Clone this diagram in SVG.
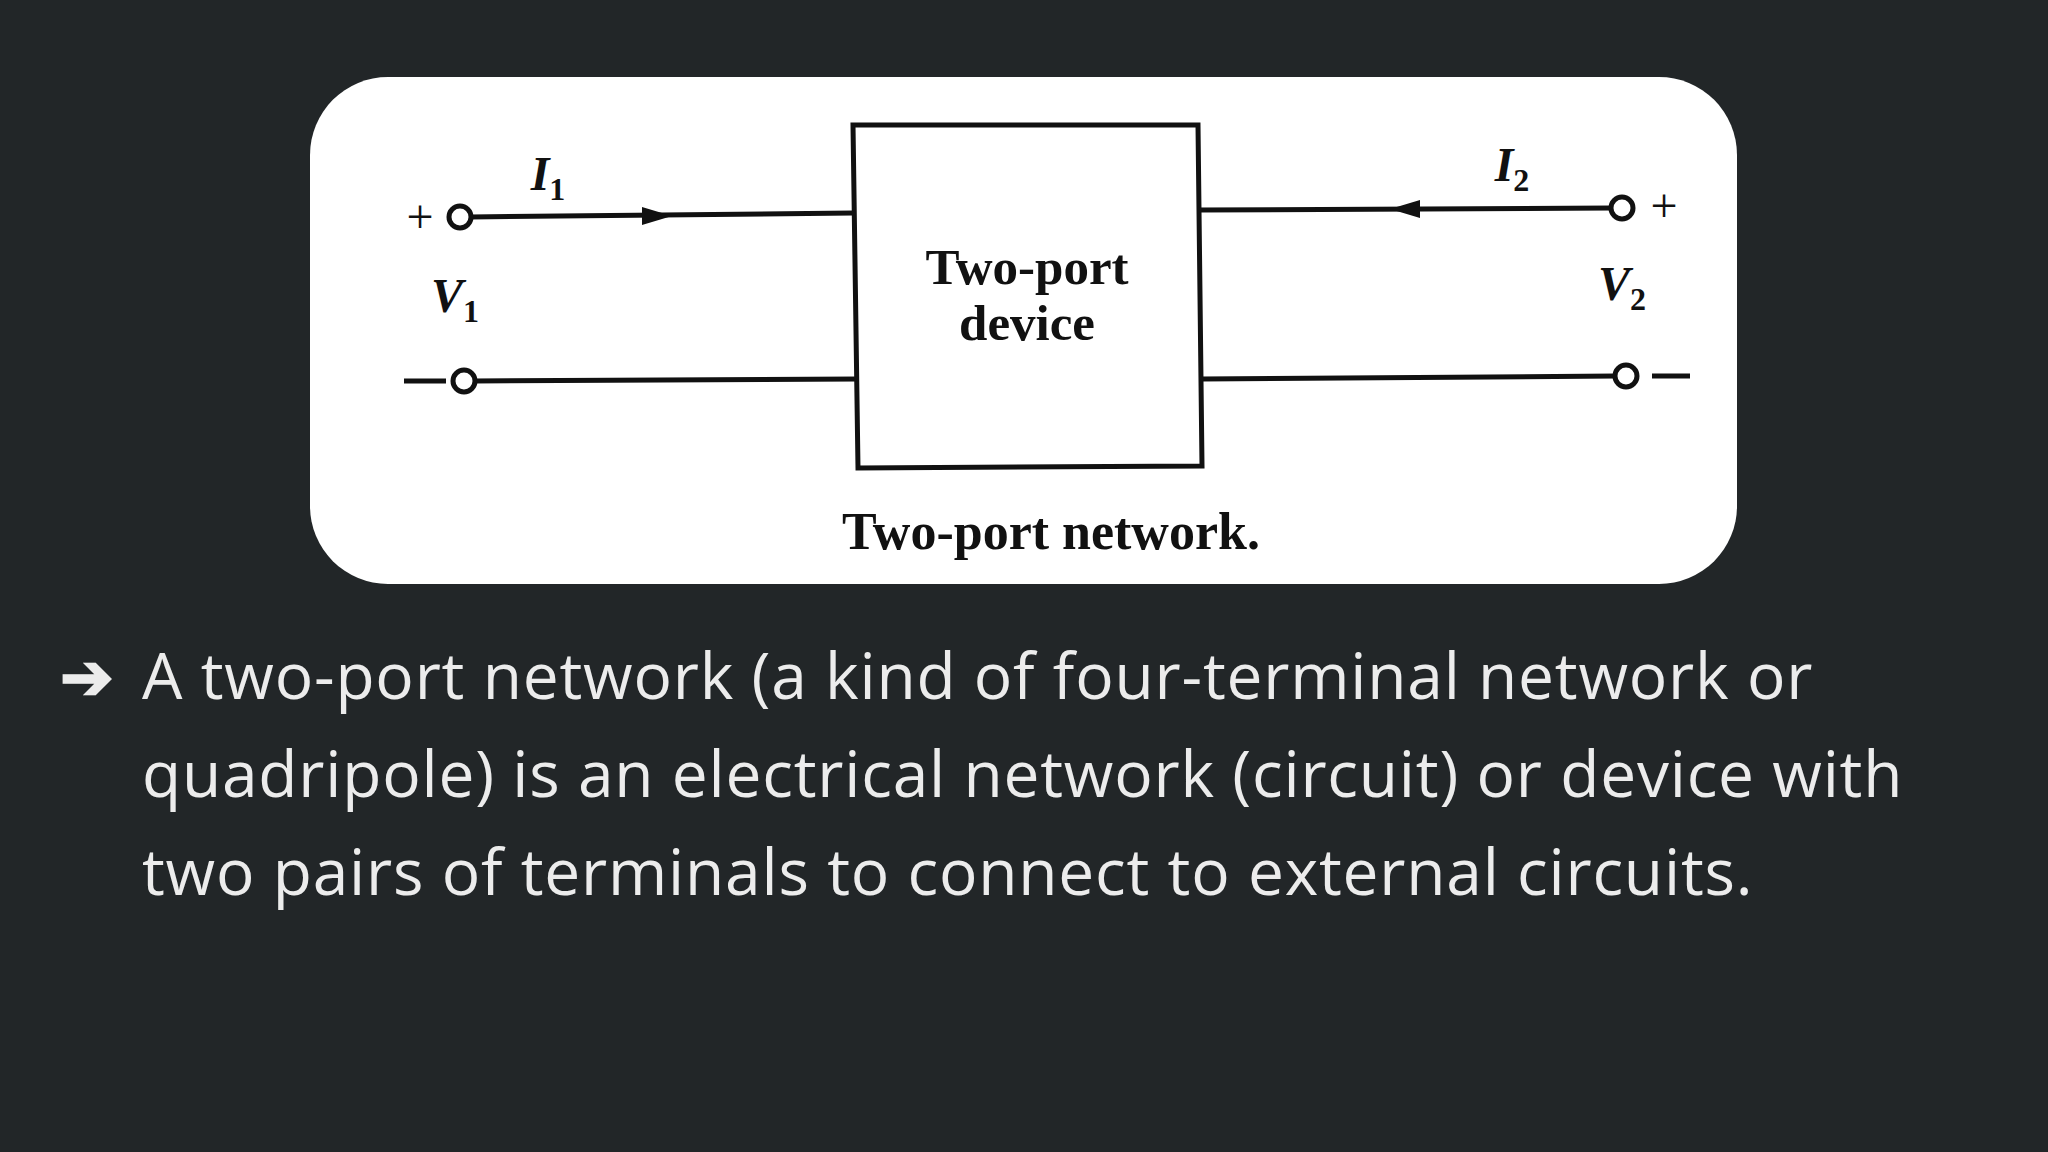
<svg xmlns="http://www.w3.org/2000/svg" width="2048" height="1152" viewBox="0 0 2048 1152">
<style>
.w{stroke:#111;stroke-width:5;fill:none}
.s{font-family:"Liberation Serif",serif;fill:#111}
.b{font-family:"Open Sans",Lato,sans-serif;font-size:64px;letter-spacing:0.8px;fill:#ececec}
</style>
<rect width="2048" height="1152" fill="#222628"/>
<rect x="310" y="77" width="1427" height="507" rx="78" fill="#fff"/>
<g id="device"><polygon points="853,125 1198,125 1202,466 858,468" class="w" stroke-width="6"/>
<text class="s" x="1027" y="284" text-anchor="middle" font-size="51" font-weight="bold">Two-port</text>
<text class="s" x="1027" y="340" text-anchor="middle" font-size="51" font-weight="bold">device</text></g>
<g id="connectors">
<line x1="470" y1="217" x2="853" y2="213" class="w"/>
<polygon points="642,207 672,216 642,225" fill="#111"/>
<line x1="474" y1="381" x2="858" y2="379" class="w"/>
<line x1="1199" y1="210" x2="1612" y2="208" class="w"/>
<polygon points="1420,200 1390,209 1420,218" fill="#111"/>
<line x1="1202" y1="379" x2="1616" y2="376" class="w"/>
</g>
<g id="port1"><circle cx="460" cy="217" r="11" class="w"/><circle cx="464" cy="381" r="11" class="w"/>
<text class="s" x="420" y="233" text-anchor="middle" font-size="48">+</text>
<line x1="404" y1="381" x2="446" y2="381" class="w" stroke-width="3"/>
<text class="s" x="548" y="190" text-anchor="middle" font-size="48" font-style="italic" font-weight="bold">I<tspan font-size="32" font-style="normal" dy="10">1</tspan></text>
<text class="s" x="455" y="312" text-anchor="middle" font-size="48" font-style="italic" font-weight="bold">V<tspan font-size="32" font-style="normal" dy="10">1</tspan></text></g>
<g id="port2"><circle cx="1622" cy="208" r="11" class="w"/><circle cx="1626" cy="376" r="11" class="w"/>
<text class="s" x="1664" y="222" text-anchor="middle" font-size="48">+</text>
<line x1="1652" y1="376" x2="1690" y2="376" class="w" stroke-width="3"/>
<text class="s" x="1512" y="181" text-anchor="middle" font-size="48" font-style="italic" font-weight="bold">I<tspan font-size="32" font-style="normal" dy="10">2</tspan></text>
<text class="s" x="1622" y="300" text-anchor="middle" font-size="48" font-style="italic" font-weight="bold">V<tspan font-size="32" font-style="normal" dy="10">2</tspan></text></g>
<text class="s" x="1051" y="549" text-anchor="middle" font-size="52" font-weight="bold">Two-port network.</text>
<text class="b" x="60" y="699" font-weight="bold">➔</text>
<text class="b" x="142" y="699">A two-port network (a kind of four-terminal network or</text>
<text class="b" x="142" y="797">quadripole) is an electrical network (circuit) or device with</text>
<text class="b" x="142" y="895">two pairs of terminals to connect to external circuits.</text>
</svg>
